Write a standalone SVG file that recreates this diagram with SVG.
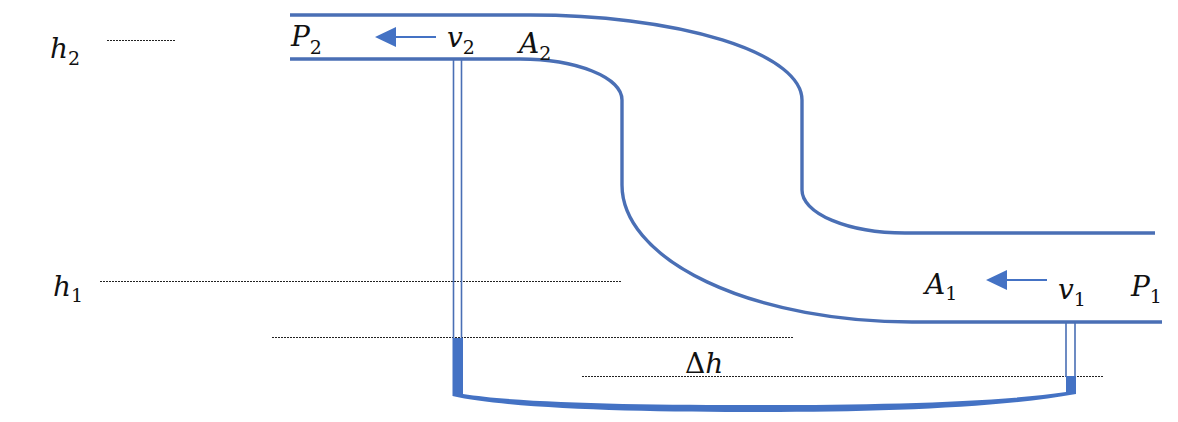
<svg xmlns="http://www.w3.org/2000/svg" width="1178" height="422" viewBox="0 0 1178 422">
<style>
.pipe{fill:none;stroke:#4a6fb5;stroke-width:3.4}
.tube{fill:none;stroke:#4a6fb5;stroke-width:1.6}
.fill{fill:#4472c4;stroke:none}
.flow{fill:none;stroke:#4472c4;stroke-width:2}
.dash{fill:none;stroke:#222;stroke-width:1;stroke-dasharray:2 1}
text{font-family:"DejaVu Serif","Liberation Serif",serif;font-style:italic;font-size:28px;fill:#111}
.sub{font-style:normal;font-size:19px}
</style>
<rect width="1178" height="422" fill="#fff"/>
<g id="connectors">
<path class="dash" d="M107 40.500H175M100 281.500H621M272 337.500H793M582 376.500H1104"/>
<path class="flow" d="M394 37H436M1005 280H1047"/>
<path class="fill" d="M375 37L396 27V47ZM986 280L1007 270V290Z"/>
</g>
<g id="pipe-upper"><path class="pipe" d="M290 15H530A272 85 0 0 1 802 100V190A103 43 0 0 0 905 233H1155"/></g>
<g id="pipe-lower"><path class="pipe" d="M290 59H520A102 41 0 0 1 622 100V185A290 137 0 0 0 912 322H1162"/></g>
<g id="manometer">
<path class="tube" d="M453.500 60V338M461.500 60V338M1066 322V377M1075 322V377"/>
<path class="fill" d="M452.500 338H463V394C520 403 640 405 760 405C880 405 1000 402 1066 392V376H1076V394C1000 408 880 412 760 412C640 412 510 409 452.500 396Z"/>
</g>
<g id="label-h2"><text x="50" y="58">h<tspan class="sub" dy="7">2</tspan></text></g>
<g id="label-h1"><text x="53" y="296">h<tspan class="sub" dy="6">1</tspan></text></g>
<g id="label-P2"><text x="291" y="46">P<tspan class="sub" dy="8">2</tspan></text></g>
<g id="label-v2"><text x="447" y="47">v<tspan class="sub" dy="7">2</tspan></text></g>
<g id="label-A2"><text x="519" y="53">A<tspan class="sub" dy="7">2</tspan></text></g>
<g id="label-A1"><text x="925" y="294">A<tspan class="sub" dy="6">1</tspan></text></g>
<g id="label-v1"><text x="1058" y="299">v<tspan class="sub" dy="7">1</tspan></text></g>
<g id="label-P1"><text x="1131" y="296">P<tspan class="sub" dy="7">1</tspan></text></g>
<g id="label-dh"><text x="685" y="373"><tspan style="font-style:normal">Δ</tspan>h</text></g>
</svg>
